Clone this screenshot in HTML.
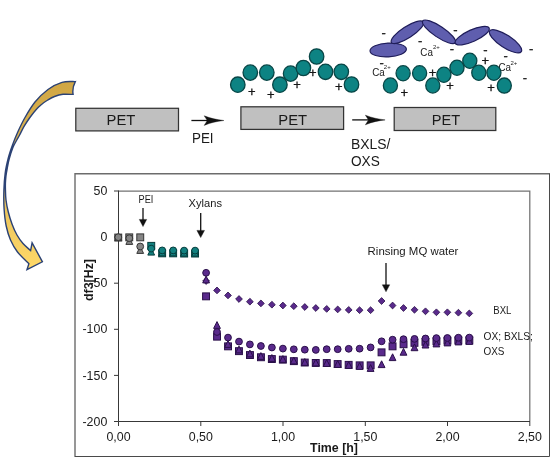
<!DOCTYPE html>
<html><head><meta charset="utf-8"><title>PET PEI xylan QCM figure</title>
<style>
html,body{margin:0;padding:0;background:#fff}
svg{display:block}
text{font-family:"Liberation Sans",sans-serif;fill:#1a1a1a}
</style></head><body>
<svg width="550" height="457" viewBox="0 0 550 457">
<defs>
<linearGradient id="ag" x1="0" y1="81" x2="0" y2="270" gradientUnits="userSpaceOnUse">
<stop offset="0" stop-color="#d0a644"/><stop offset="0.5" stop-color="#e2bb58"/><stop offset="1" stop-color="#ffd968"/>
</linearGradient>
</defs>
<rect width="550" height="457" fill="#fff"/>
<!-- curved arrow -->
<path d="M75.3 81.6C73.1 81.7 66.5 81.0 62.0 82.3C57.5 83.6 52.5 86.2 48.0 89.5C43.5 92.8 38.8 97.3 35.0 102.0C31.2 106.7 27.8 112.6 25.0 117.5C22.2 122.4 20.1 126.9 18.0 131.5C15.9 136.1 14.1 140.6 12.5 145.0C10.9 149.4 9.5 153.3 8.3 158.0C7.1 162.7 5.9 167.7 5.2 173.0C4.5 178.3 4.1 184.0 3.9 190.0C3.7 196.0 3.7 203.0 4.1 209.0C4.5 215.0 5.1 220.8 6.2 226.0C7.3 231.2 8.6 235.7 10.5 240.0C12.4 244.3 14.4 248.0 17.5 252.0C20.6 256.0 27.0 261.8 28.9 263.8L27 269.7L42.4 261.8L32.1 242.8L30.6 250.6C29.3 249.4 25.3 246.1 23.0 243.5C20.7 240.9 18.8 238.2 17.0 235.0C15.2 231.8 13.4 227.8 12.0 224.0C10.6 220.2 9.3 216.0 8.3 212.0C7.3 208.0 6.5 204.0 6.0 200.0C5.5 196.0 5.5 191.3 5.4 188.0C5.3 184.7 5.4 182.6 5.6 180.0C5.8 177.4 5.9 175.9 6.5 172.5C7.1 169.1 8.0 163.6 9.1 159.4C10.2 155.2 11.6 150.7 12.9 147.5C14.2 144.3 15.7 142.1 16.8 140.0C17.9 137.9 18.4 137.3 19.6 135.0C20.8 132.7 22.5 129.1 24.2 126.2C25.9 123.3 27.8 120.4 29.9 117.5C32.0 114.6 35.0 110.9 36.9 108.8C38.8 106.6 39.7 106.0 41.5 104.5C43.3 103.0 45.6 101.3 47.8 100.0C50.0 98.7 52.0 97.5 54.5 96.5C57.0 95.5 59.9 94.6 63.0 94.3C66.1 94.0 71.4 94.4 73.1 94.4Q72 88 75.3 81.6Z" fill="url(#ag)" stroke="#2b4275" stroke-width="1.4" stroke-linejoin="miter"/>
<!-- PET boxes -->
<g fill="#c0c0c0" stroke="#333" stroke-width="1.25">
<rect x="75.8" y="108.3" width="102.7" height="22.6"/>
<rect x="240.9" y="106.8" width="102.7" height="22.6"/>
<rect x="394.2" y="107.5" width="101.6" height="23"/>
</g>
<g font-size="15.3" text-anchor="middle" fill="#222">
<text x="120.9" y="125" textLength="28.8" lengthAdjust="spacingAndGlyphs">PET</text>
<text x="292.7" y="124.5" textLength="28.8" lengthAdjust="spacingAndGlyphs">PET</text>
<text x="445.9" y="125" textLength="28.4" lengthAdjust="spacingAndGlyphs">PET</text>
</g>
<!-- arrows -->
<g stroke="#111" stroke-width="1.3" fill="#111">
<path d="M191.4 120.5H208"/><path d="M223.9 120.5C217 119.6 211 118.6 204.2 115.8L207.3 120.5L204.2 125.4C211 122.4 217 121.4 223.9 120.5Z" stroke-width="0.4"/>
<path d="M352.2 119.9H369"/><path d="M385.1 119.9C378.2 119 372.2 118 365.4 115.2L368.5 119.9L365.4 124.8C372.2 121.8 378.2 120.8 385.1 119.9Z" stroke-width="0.4"/>
</g>
<g font-size="14" fill="#222">
<text x="192" y="143" textLength="21.6" lengthAdjust="spacingAndGlyphs">PEI</text>
<text x="351" y="149.4" textLength="39.5" lengthAdjust="spacingAndGlyphs">BXLS/</text>
<text x="351" y="166.3" textLength="28.8" lengthAdjust="spacingAndGlyphs">OXS</text>
</g>
<!-- purple ellipses -->
<g fill="#5f5eae" stroke="#1f1d5a" stroke-width="1.2"><ellipse cx="388.2" cy="50" rx="18.2" ry="6.9" transform="rotate(-3 388.2 50)"/><ellipse cx="407.3" cy="32.3" rx="18.9" ry="5.7" transform="rotate(-32.8 407.3 32.3)"/><ellipse cx="439" cy="31.8" rx="19.6" ry="5.5" transform="rotate(33.7 439 31.8)"/><ellipse cx="472.2" cy="35.7" rx="18.6" ry="5.8" transform="rotate(-24.3 472.2 35.7)"/><ellipse cx="505.5" cy="41.3" rx="18.9" ry="6.2" transform="rotate(33.2 505.5 41.3)"/></g>
<g font-size="10.5" fill="#222">
<text x="420.3" y="55.8" textLength="12.6" lengthAdjust="spacingAndGlyphs">Ca</text><text x="433" y="49.1" font-size="6">2+</text>
<text x="372.2" y="75.7" textLength="12.6" lengthAdjust="spacingAndGlyphs">Ca</text><text x="383.8" y="68.5" font-size="6">2+</text>
<text x="498.5" y="71.1" textLength="12.6" lengthAdjust="spacingAndGlyphs">Ca</text><text x="510.5" y="64.6" font-size="6">2+</text>
</g>
<!-- teal circles -->
<g fill="#0d8383" stroke="#084646" stroke-width="1.3"><ellipse cx="237.8" cy="84.7" rx="7.25" ry="7.7"/><ellipse cx="250.3" cy="72.6" rx="7.25" ry="7.7"/><ellipse cx="266.8" cy="72.6" rx="7.25" ry="7.7"/><ellipse cx="279.9" cy="84.7" rx="7.25" ry="7.7"/><ellipse cx="290.6" cy="73.6" rx="7.25" ry="7.7"/><ellipse cx="303.4" cy="68" rx="7.25" ry="7.7"/><ellipse cx="316.6" cy="56.5" rx="7.25" ry="7.7"/><ellipse cx="325.5" cy="71.8" rx="7.25" ry="7.7"/><ellipse cx="341.3" cy="71.8" rx="7.25" ry="7.7"/><ellipse cx="351.5" cy="84.5" rx="7.25" ry="7.7"/><ellipse cx="390.4" cy="85.5" rx="7.05" ry="7.6"/><ellipse cx="403.1" cy="73.3" rx="7.05" ry="7.6"/><ellipse cx="419.6" cy="73.3" rx="7.05" ry="7.6"/><ellipse cx="432.8" cy="85.5" rx="7.05" ry="7.6"/><ellipse cx="443.9" cy="74.8" rx="7.05" ry="7.6"/><ellipse cx="457" cy="67.7" rx="7.05" ry="7.6"/><ellipse cx="469.8" cy="60.8" rx="7.05" ry="7.6"/><ellipse cx="478.8" cy="72.8" rx="7.05" ry="7.6"/><ellipse cx="493.9" cy="72.8" rx="7.05" ry="7.6"/><ellipse cx="504.3" cy="85.6" rx="7.05" ry="7.6"/></g>
<g font-size="13" text-anchor="middle" fill="#111" stroke="#111" stroke-width="0.3"><text x="251.7" y="96.1">+</text><text x="270.8" y="98.6">+</text><text x="297" y="89.4">+</text><text x="312.8" y="77.4">+</text><text x="338.7" y="91.4">+</text><text x="404.4" y="96.7">+</text><text x="432.5" y="77">+</text><text x="450" y="90.2">+</text><text x="485.4" y="65">+</text><text x="491" y="91.8">+</text></g>
<g font-size="13" text-anchor="middle" fill="#111" stroke="#111" stroke-width="0.25"><text x="383.7" y="36.5">-</text><text x="420.1" y="45">-</text><text x="451.8" y="52.7">-</text><text x="455.5" y="33.6">-</text><text x="485.4" y="53.7">-</text><text x="505.7" y="59.6">-</text><text x="531.1" y="52.7">-</text><text x="524.8" y="81.8">-</text><text x="381.7" y="66.9">-</text></g>
<!-- chart -->
<path d="M75 457V173.8H550" fill="none" stroke="#6c6c6c" stroke-width="1.4"/><path d="M549.5 173.8V456.5H75" fill="none" stroke="#4a4a4a" stroke-width="1"/>
<path d="M118.5 191H529.8V421.5" fill="none" stroke="#727272" stroke-width="1.25"/>
<path d="M118.5 190.5V421.5H530" fill="none" stroke="#383838" stroke-width="1"/>
<path d="M114 191H118.5M114 237.1H118.5M114 283.2H118.5M114 329.3H118.5M114 375.4H118.5M114 421.5H118.5M118.5 421.5V426M200.8 421.5V426M283 421.5V426M365.3 421.5V426M447.5 421.5V426M529.8 421.5V426" stroke="#383838" stroke-width="1" fill="none"/>
<g font-size="12.4" fill="#111"><text x="107.3" y="195.1" text-anchor="end">50</text><text x="107.3" y="241.2" text-anchor="end">0</text><text x="107.3" y="287.3" text-anchor="end">-50</text><text x="107.3" y="333.4" text-anchor="end">-100</text><text x="107.3" y="379.5" text-anchor="end">-150</text><text x="107.3" y="425.6" text-anchor="end">-200</text><text x="118.5" y="441.2" text-anchor="middle">0,00</text><text x="200.8" y="441.2" text-anchor="middle">0,50</text><text x="283" y="441.2" text-anchor="middle">1,00</text><text x="365.3" y="441.2" text-anchor="middle">1,50</text><text x="447.5" y="441.2" text-anchor="middle">2,00</text><text x="529.8" y="441.2" text-anchor="middle">2,50</text></g>
<text x="334" y="452.2" font-size="12" font-weight="bold" text-anchor="middle" textLength="47.9" lengthAdjust="spacingAndGlyphs">Time [h]</text>
<text transform="translate(93.2 280) rotate(-90)" font-size="12" font-weight="bold" text-anchor="middle" textLength="42" lengthAdjust="spacingAndGlyphs">df3[Hz]</text>
<!-- annotations -->
<g stroke="#111" stroke-width="1.3" fill="#111">
<path d="M143 208V221"/><path d="M143 226.6L139.3 219.4H146.7Z" stroke-width="0.4"/>
<path d="M200.7 213V232"/><path d="M200.7 237.6L196.9 230.4H204.5Z" stroke-width="0.4"/>
<path d="M386 263V286.5"/><path d="M386 291.8L382.3 284.8H389.7Z" stroke-width="0.4"/>
</g>
<g fill="#1a1a1a">
<text x="138.6" y="202.7" font-size="10" textLength="14.8" lengthAdjust="spacingAndGlyphs">PEI</text>
<text x="188.6" y="206.7" font-size="11" textLength="33.4" lengthAdjust="spacingAndGlyphs">Xylans</text>
<text x="367.6" y="254.6" font-size="11.5" textLength="90.8" lengthAdjust="spacingAndGlyphs">Rinsing MQ water</text>
<text x="493.3" y="313.8" font-size="10.3" textLength="18.1" lengthAdjust="spacingAndGlyphs">BXL</text>
<text x="483.5" y="339.5" font-size="10.3" textLength="49.3" lengthAdjust="spacingAndGlyphs">OX; BXLS;</text>
<text x="483.5" y="354.5" font-size="10.3" textLength="21" lengthAdjust="spacingAndGlyphs">OXS</text>
</g>
<!-- data markers -->
<rect x="114.8" y="234.1" width="6.9" height="6.9" fill="#858585" stroke="#353535" stroke-width="1"/>
<path d="M118.3 233.8L121.7 240.6H114.9Z" fill="#858585" stroke="#353535" stroke-width="1"/>
<circle cx="118.3" cy="237.2" r="3.4" fill="#858585" stroke="#353535" stroke-width="1"/>
<rect x="125.8" y="233.9" width="6.9" height="6.9" fill="#858585" stroke="#353535" stroke-width="1"/>
<path d="M129.3 237.6L132.7 244.4H125.9Z" fill="#858585" stroke="#353535" stroke-width="1"/>
<circle cx="129.3" cy="238.2" r="3.4" fill="#858585" stroke="#353535" stroke-width="1"/>
<rect x="136.8" y="233.9" width="6.9" height="6.9" fill="#858585" stroke="#353535" stroke-width="1"/>
<path d="M140.2 246.6L143.6 253.4H136.8Z" fill="#858585" stroke="#353535" stroke-width="1"/>
<circle cx="140.2" cy="246.5" r="3.4" fill="#858585" stroke="#353535" stroke-width="1"/>
<rect x="147.8" y="242.4" width="6.9" height="6.9" fill="#12807f" stroke="#063c3c" stroke-width="1"/>
<path d="M151.2 248.3L154.6 255.1H147.8Z" fill="#12807f" stroke="#063c3c" stroke-width="1"/>
<circle cx="151.2" cy="248.6" r="3.4" fill="#12807f" stroke="#063c3c" stroke-width="1"/>
<rect x="158.7" y="249.9" width="6.9" height="6.9" fill="#12807f" stroke="#063c3c" stroke-width="1"/>
<path d="M162.2 249.1L165.6 255.9H158.8Z" fill="#12807f" stroke="#063c3c" stroke-width="1"/>
<circle cx="162.2" cy="250.4" r="3.4" fill="#12807f" stroke="#063c3c" stroke-width="1"/>
<rect x="169.7" y="249.9" width="6.9" height="6.9" fill="#12807f" stroke="#063c3c" stroke-width="1"/>
<path d="M173.2 249.1L176.6 255.9H169.8Z" fill="#12807f" stroke="#063c3c" stroke-width="1"/>
<circle cx="173.2" cy="250.4" r="3.4" fill="#12807f" stroke="#063c3c" stroke-width="1"/>
<rect x="180.7" y="250.1" width="6.9" height="6.9" fill="#12807f" stroke="#063c3c" stroke-width="1"/>
<path d="M184.1 249.3L187.5 256.1H180.7Z" fill="#12807f" stroke="#063c3c" stroke-width="1"/>
<circle cx="184.1" cy="250.6" r="3.4" fill="#12807f" stroke="#063c3c" stroke-width="1"/>
<rect x="191.6" y="250.1" width="6.9" height="6.9" fill="#12807f" stroke="#063c3c" stroke-width="1"/>
<path d="M195.1 249.3L198.5 256.1H191.7Z" fill="#12807f" stroke="#063c3c" stroke-width="1"/>
<circle cx="195.1" cy="250.6" r="3.4" fill="#12807f" stroke="#063c3c" stroke-width="1"/>
<path d="M206.1 277.6L209.5 281L206.1 284.4L202.7 281Z" fill="#5a2a8c" stroke="#2a1049" stroke-width="0.8"/>
<rect x="202.6" y="292.9" width="6.9" height="6.9" fill="#5a2a8c" stroke="#2a1049" stroke-width="1"/>
<path d="M206.1 276.1L209.5 282.9H202.7Z" fill="#5a2a8c" stroke="#2a1049" stroke-width="1"/>
<circle cx="206.1" cy="272.8" r="3.4" fill="#5a2a8c" stroke="#2a1049" stroke-width="1"/>
<path d="M217 287L220.4 290.4L217 293.8L213.6 290.4Z" fill="#5a2a8c" stroke="#2a1049" stroke-width="0.8"/>
<rect x="213.6" y="333.2" width="6.9" height="6.9" fill="#5a2a8c" stroke="#2a1049" stroke-width="1"/>
<path d="M217 321.6L220.4 328.4H213.6Z" fill="#5a2a8c" stroke="#2a1049" stroke-width="1"/>
<circle cx="217" cy="332" r="3.4" fill="#5a2a8c" stroke="#2a1049" stroke-width="1"/>
<path d="M228 292L231.4 295.4L228 298.8L224.6 295.4Z" fill="#5a2a8c" stroke="#2a1049" stroke-width="0.8"/>
<rect x="224.6" y="342.9" width="6.9" height="6.9" fill="#5a2a8c" stroke="#2a1049" stroke-width="1"/>
<path d="M228 340.6L231.4 347.4H224.6Z" fill="#5a2a8c" stroke="#2a1049" stroke-width="1"/>
<circle cx="228" cy="337.6" r="3.4" fill="#5a2a8c" stroke="#2a1049" stroke-width="1"/>
<path d="M239 295.6L242.4 299L239 302.4L235.6 299Z" fill="#5a2a8c" stroke="#2a1049" stroke-width="0.8"/>
<rect x="235.5" y="347.7" width="6.9" height="6.9" fill="#5a2a8c" stroke="#2a1049" stroke-width="1"/>
<path d="M239 346.1L242.4 352.9H235.6Z" fill="#5a2a8c" stroke="#2a1049" stroke-width="1"/>
<circle cx="239" cy="341.6" r="3.4" fill="#5a2a8c" stroke="#2a1049" stroke-width="1"/>
<path d="M249.9 298.3L253.3 301.7L249.9 305.1L246.5 301.7Z" fill="#5a2a8c" stroke="#2a1049" stroke-width="0.8"/>
<rect x="246.5" y="351.6" width="6.9" height="6.9" fill="#5a2a8c" stroke="#2a1049" stroke-width="1"/>
<path d="M249.9 350.1L253.3 356.9H246.5Z" fill="#5a2a8c" stroke="#2a1049" stroke-width="1"/>
<circle cx="249.9" cy="344.4" r="3.4" fill="#5a2a8c" stroke="#2a1049" stroke-width="1"/>
<path d="M260.9 300L264.3 303.4L260.9 306.8L257.5 303.4Z" fill="#5a2a8c" stroke="#2a1049" stroke-width="0.8"/>
<rect x="257.5" y="353.8" width="6.9" height="6.9" fill="#5a2a8c" stroke="#2a1049" stroke-width="1"/>
<path d="M260.9 352.6L264.3 359.4H257.5Z" fill="#5a2a8c" stroke="#2a1049" stroke-width="1"/>
<circle cx="260.9" cy="346" r="3.4" fill="#5a2a8c" stroke="#2a1049" stroke-width="1"/>
<path d="M271.9 301.3L275.3 304.7L271.9 308.1L268.5 304.7Z" fill="#5a2a8c" stroke="#2a1049" stroke-width="0.8"/>
<rect x="268.4" y="355.6" width="6.9" height="6.9" fill="#5a2a8c" stroke="#2a1049" stroke-width="1"/>
<path d="M271.9 354.6L275.3 361.4H268.5Z" fill="#5a2a8c" stroke="#2a1049" stroke-width="1"/>
<circle cx="271.9" cy="347.5" r="3.4" fill="#5a2a8c" stroke="#2a1049" stroke-width="1"/>
<path d="M282.9 302.1L286.2 305.5L282.9 308.9L279.5 305.5Z" fill="#5a2a8c" stroke="#2a1049" stroke-width="0.8"/>
<rect x="279.4" y="356.2" width="6.9" height="6.9" fill="#5a2a8c" stroke="#2a1049" stroke-width="1"/>
<path d="M282.9 355.6L286.2 362.4H279.5Z" fill="#5a2a8c" stroke="#2a1049" stroke-width="1"/>
<circle cx="282.9" cy="348.6" r="3.4" fill="#5a2a8c" stroke="#2a1049" stroke-width="1"/>
<path d="M293.8 302.8L297.2 306.2L293.8 309.6L290.4 306.2Z" fill="#5a2a8c" stroke="#2a1049" stroke-width="0.8"/>
<rect x="290.4" y="357.7" width="6.9" height="6.9" fill="#5a2a8c" stroke="#2a1049" stroke-width="1"/>
<path d="M293.8 357.1L297.2 363.9H290.4Z" fill="#5a2a8c" stroke="#2a1049" stroke-width="1"/>
<circle cx="293.8" cy="349.3" r="3.4" fill="#5a2a8c" stroke="#2a1049" stroke-width="1"/>
<path d="M304.8 303.6L308.2 307L304.8 310.4L301.4 307Z" fill="#5a2a8c" stroke="#2a1049" stroke-width="0.8"/>
<rect x="301.3" y="359.1" width="6.9" height="6.9" fill="#5a2a8c" stroke="#2a1049" stroke-width="1"/>
<path d="M304.8 358.6L308.2 365.4H301.4Z" fill="#5a2a8c" stroke="#2a1049" stroke-width="1"/>
<circle cx="304.8" cy="349.7" r="3.4" fill="#5a2a8c" stroke="#2a1049" stroke-width="1"/>
<path d="M315.8 304.6L319.2 308L315.8 311.4L312.4 308Z" fill="#5a2a8c" stroke="#2a1049" stroke-width="0.8"/>
<rect x="312.3" y="359.5" width="6.9" height="6.9" fill="#5a2a8c" stroke="#2a1049" stroke-width="1"/>
<path d="M315.8 359.1L319.2 365.9H312.4Z" fill="#5a2a8c" stroke="#2a1049" stroke-width="1"/>
<circle cx="315.8" cy="349.9" r="3.4" fill="#5a2a8c" stroke="#2a1049" stroke-width="1"/>
<path d="M326.7 305.5L330.1 308.9L326.7 312.3L323.3 308.9Z" fill="#5a2a8c" stroke="#2a1049" stroke-width="0.8"/>
<rect x="323.3" y="359.6" width="6.9" height="6.9" fill="#5a2a8c" stroke="#2a1049" stroke-width="1"/>
<path d="M326.7 359.6L330.1 366.4H323.3Z" fill="#5a2a8c" stroke="#2a1049" stroke-width="1"/>
<circle cx="326.7" cy="349.2" r="3.4" fill="#5a2a8c" stroke="#2a1049" stroke-width="1"/>
<path d="M337.7 306L341.1 309.4L337.7 312.8L334.3 309.4Z" fill="#5a2a8c" stroke="#2a1049" stroke-width="0.8"/>
<rect x="334.2" y="360.6" width="6.9" height="6.9" fill="#5a2a8c" stroke="#2a1049" stroke-width="1"/>
<path d="M337.7 360.6L341.1 367.4H334.3Z" fill="#5a2a8c" stroke="#2a1049" stroke-width="1"/>
<circle cx="337.7" cy="349.2" r="3.4" fill="#5a2a8c" stroke="#2a1049" stroke-width="1"/>
<path d="M348.7 306.5L352.1 309.9L348.7 313.3L345.3 309.9Z" fill="#5a2a8c" stroke="#2a1049" stroke-width="0.8"/>
<rect x="345.2" y="361.4" width="6.9" height="6.9" fill="#5a2a8c" stroke="#2a1049" stroke-width="1"/>
<path d="M348.7 361.6L352.1 368.4H345.3Z" fill="#5a2a8c" stroke="#2a1049" stroke-width="1"/>
<circle cx="348.7" cy="348.8" r="3.4" fill="#5a2a8c" stroke="#2a1049" stroke-width="1"/>
<path d="M359.6 306.8L363 310.2L359.6 313.6L356.2 310.2Z" fill="#5a2a8c" stroke="#2a1049" stroke-width="0.8"/>
<rect x="356.2" y="361.9" width="6.9" height="6.9" fill="#5a2a8c" stroke="#2a1049" stroke-width="1"/>
<path d="M359.6 362.6L363 369.4H356.2Z" fill="#5a2a8c" stroke="#2a1049" stroke-width="1"/>
<circle cx="359.6" cy="348.7" r="3.4" fill="#5a2a8c" stroke="#2a1049" stroke-width="1"/>
<path d="M370.6 306.8L374 310.2L370.6 313.6L367.2 310.2Z" fill="#5a2a8c" stroke="#2a1049" stroke-width="0.8"/>
<rect x="367.2" y="361.9" width="6.9" height="6.9" fill="#5a2a8c" stroke="#2a1049" stroke-width="1"/>
<path d="M370.6 364.6L374 371.4H367.2Z" fill="#5a2a8c" stroke="#2a1049" stroke-width="1"/>
<circle cx="370.6" cy="347.4" r="3.4" fill="#5a2a8c" stroke="#2a1049" stroke-width="1"/>
<path d="M381.6 297.6L385 301L381.6 304.4L378.2 301Z" fill="#5a2a8c" stroke="#2a1049" stroke-width="0.8"/>
<rect x="378.1" y="348.9" width="6.9" height="6.9" fill="#5a2a8c" stroke="#2a1049" stroke-width="1"/>
<path d="M381.6 360.8L385 367.6H378.2Z" fill="#5a2a8c" stroke="#2a1049" stroke-width="1"/>
<circle cx="381.6" cy="341.3" r="3.4" fill="#5a2a8c" stroke="#2a1049" stroke-width="1"/>
<path d="M392.6 302.1L395.9 305.5L392.6 308.9L389.2 305.5Z" fill="#5a2a8c" stroke="#2a1049" stroke-width="0.8"/>
<rect x="389.1" y="342.9" width="6.9" height="6.9" fill="#5a2a8c" stroke="#2a1049" stroke-width="1"/>
<path d="M392.6 353.8L395.9 360.6H389.2Z" fill="#5a2a8c" stroke="#2a1049" stroke-width="1"/>
<circle cx="392.6" cy="339.7" r="3.4" fill="#5a2a8c" stroke="#2a1049" stroke-width="1"/>
<path d="M403.5 304.6L406.9 308L403.5 311.4L400.1 308Z" fill="#5a2a8c" stroke="#2a1049" stroke-width="0.8"/>
<rect x="400.1" y="340.8" width="6.9" height="6.9" fill="#5a2a8c" stroke="#2a1049" stroke-width="1"/>
<path d="M403.5 348.4L406.9 355.2H400.1Z" fill="#5a2a8c" stroke="#2a1049" stroke-width="1"/>
<circle cx="403.5" cy="339.2" r="3.4" fill="#5a2a8c" stroke="#2a1049" stroke-width="1"/>
<path d="M414.5 306.4L417.9 309.8L414.5 313.2L411.1 309.8Z" fill="#5a2a8c" stroke="#2a1049" stroke-width="0.8"/>
<rect x="411" y="339.4" width="6.9" height="6.9" fill="#5a2a8c" stroke="#2a1049" stroke-width="1"/>
<path d="M414.5 343.9L417.9 350.7H411.1Z" fill="#5a2a8c" stroke="#2a1049" stroke-width="1"/>
<circle cx="414.5" cy="338.9" r="3.4" fill="#5a2a8c" stroke="#2a1049" stroke-width="1"/>
<path d="M425.5 307.9L428.9 311.3L425.5 314.7L422.1 311.3Z" fill="#5a2a8c" stroke="#2a1049" stroke-width="0.8"/>
<rect x="422" y="338.4" width="6.9" height="6.9" fill="#5a2a8c" stroke="#2a1049" stroke-width="1"/>
<path d="M425.5 341.2L428.9 348H422.1Z" fill="#5a2a8c" stroke="#2a1049" stroke-width="1"/>
<circle cx="425.5" cy="338.5" r="3.4" fill="#5a2a8c" stroke="#2a1049" stroke-width="1"/>
<path d="M436.4 308.9L439.8 312.3L436.4 315.7L433 312.3Z" fill="#5a2a8c" stroke="#2a1049" stroke-width="0.8"/>
<rect x="433" y="337.8" width="6.9" height="6.9" fill="#5a2a8c" stroke="#2a1049" stroke-width="1"/>
<path d="M436.4 340.1L439.8 346.9H433Z" fill="#5a2a8c" stroke="#2a1049" stroke-width="1"/>
<circle cx="436.4" cy="338.1" r="3.4" fill="#5a2a8c" stroke="#2a1049" stroke-width="1"/>
<path d="M447.4 308.9L450.8 312.3L447.4 315.7L444 312.3Z" fill="#5a2a8c" stroke="#2a1049" stroke-width="0.8"/>
<rect x="444" y="337.2" width="6.9" height="6.9" fill="#5a2a8c" stroke="#2a1049" stroke-width="1"/>
<path d="M447.4 339.1L450.8 345.9H444Z" fill="#5a2a8c" stroke="#2a1049" stroke-width="1"/>
<circle cx="447.4" cy="338" r="3.4" fill="#5a2a8c" stroke="#2a1049" stroke-width="1"/>
<path d="M458.4 309.3L461.8 312.7L458.4 316.1L455 312.7Z" fill="#5a2a8c" stroke="#2a1049" stroke-width="0.8"/>
<rect x="454.9" y="336.8" width="6.9" height="6.9" fill="#5a2a8c" stroke="#2a1049" stroke-width="1"/>
<path d="M458.4 338.1L461.8 344.9H455Z" fill="#5a2a8c" stroke="#2a1049" stroke-width="1"/>
<circle cx="458.4" cy="337.7" r="3.4" fill="#5a2a8c" stroke="#2a1049" stroke-width="1"/>
<path d="M469.3 310L472.7 313.4L469.3 316.8L465.9 313.4Z" fill="#5a2a8c" stroke="#2a1049" stroke-width="0.8"/>
<rect x="465.9" y="336.8" width="6.9" height="6.9" fill="#5a2a8c" stroke="#2a1049" stroke-width="1"/>
<path d="M469.3 337.6L472.7 344.4H465.9Z" fill="#5a2a8c" stroke="#2a1049" stroke-width="1"/>
<circle cx="469.3" cy="337.6" r="3.4" fill="#5a2a8c" stroke="#2a1049" stroke-width="1"/>
</svg>
</body></html>
